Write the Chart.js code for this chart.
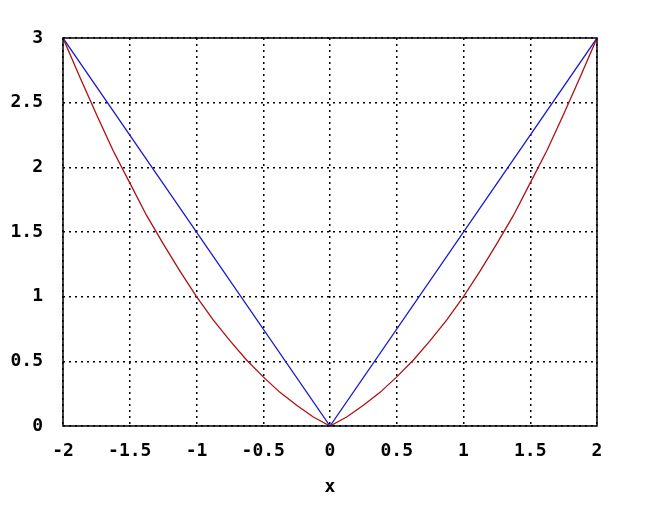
<!DOCTYPE html>
<html>
<head>
<meta charset="utf-8">
<script src="https://cdn.jsdelivr.net/npm/chart.js@4"></script>
<style>
  html, body { margin: 0; padding: 0; background: #fff; }
  #wrap { width: 648px; height: 511px; }
</style>
</head>
<body>
<div id="wrap"><canvas id="theChart" width="648" height="511"></canvas></div>
<script>
// values
const redX = [-2, -1.875, -1.75, -1.625, -1.5, -1.375, -1.25, -1.125, -1, -0.875, -0.75, -0.625, -0.5, -0.375, -0.25, -0.125, 0,
              0.125, 0.25, 0.375, 0.5, 0.625, 0.75, 0.875, 1, 1.125, 1.25, 1.375, 1.5, 1.625, 1.75, 1.875, 2];
const redY = [3, 2.7, 2.41, 2.13, 1.88, 1.63, 1.41, 1.2, 1, 0.82, 0.66, 0.51, 0.38, 0.26, 0.16, 0.07, 0,
              0.07, 0.16, 0.26, 0.38, 0.51, 0.66, 0.82, 1, 1.2, 1.41, 1.63, 1.88, 2.13, 2.41, 2.7, 3];
const blueX = [-2, 0, 2];
const blueY = [3, 0, 3];
const xTicks = [-2, -1.5, -1, -0.5, 0, 0.5, 1, 1.5, 2];
const yTicks = [0, 0.5, 1, 1.5, 2, 2.5, 3];

const font = { family: 'DejaVu Sans Mono', size: 18, weight: 'bold' };

function toPoints(xs, ys) {
  return xs.map((x, i) => ({ x: x, y: ys[i] }));
}

// box round the plot area, like gnuplot's border
const borderBox = {
  id: 'borderBox',
  afterDraw(chart) {
    const a = chart.chartArea;
    const c = chart.ctx;
    c.save();
    c.strokeStyle = '#000';
    c.lineWidth = 1.5;
    c.strokeRect(a.left, a.top, a.right - a.left, a.bottom - a.top);
    c.restore();
  }
};

const ctx = document.getElementById('theChart').getContext('2d');
new Chart(ctx, {
  type: 'line',
  data: {
    datasets: [
      {
        data: toPoints(redX, redY),
        borderColor: '#b01010',
        borderWidth: 1.3,
        pointRadius: 0,
        tension: 0
      },
      {
        data: toPoints(blueX, blueY),
        borderColor: '#1a1ad0',
        borderWidth: 1.3,
        pointRadius: 0,
        tension: 0
      }
    ]
  },
  options: {
    responsive: false,
    animation: false,
    layout: { padding: { top: 38, right: 51, left: 0, bottom: 0 } },
    plugins: { legend: { display: false }, tooltip: { enabled: false } },
    scales: {
      x: {
        type: 'linear',
        min: -2,
        max: 2,
        afterBuildTicks(scale) { scale.ticks = xTicks.map(v => ({ value: v })); },
        afterFit(scale) { scale.height = 85; },
        grid: { color: '#000', lineWidth: 1.5, drawTicks: false, tickLength: 0 },
        border: { display: false, dash: [2, 4] },
        ticks: { color: '#000', font: font, padding: 15, maxRotation: 0, autoSkip: false,
                 callback: v => String(v) },
        title: { display: true, text: 'x', color: '#000', font: font, padding: { top: 0, bottom: 13 } }
      },
      y: {
        min: 0,
        max: 3,
        afterBuildTicks(scale) { scale.ticks = yTicks.map(v => ({ value: v })); },
        afterFit(scale) { scale.width = 63; },
        grid: { color: '#000', lineWidth: 1.5, drawTicks: false, tickLength: 0 },
        border: { display: false, dash: [2, 4] },
        ticks: { color: '#000', font: font, padding: 20, autoSkip: false,
                 callback: v => String(v) }
      }
    }
  },
  plugins: [borderBox]
});
</script>
</body>
</html>
